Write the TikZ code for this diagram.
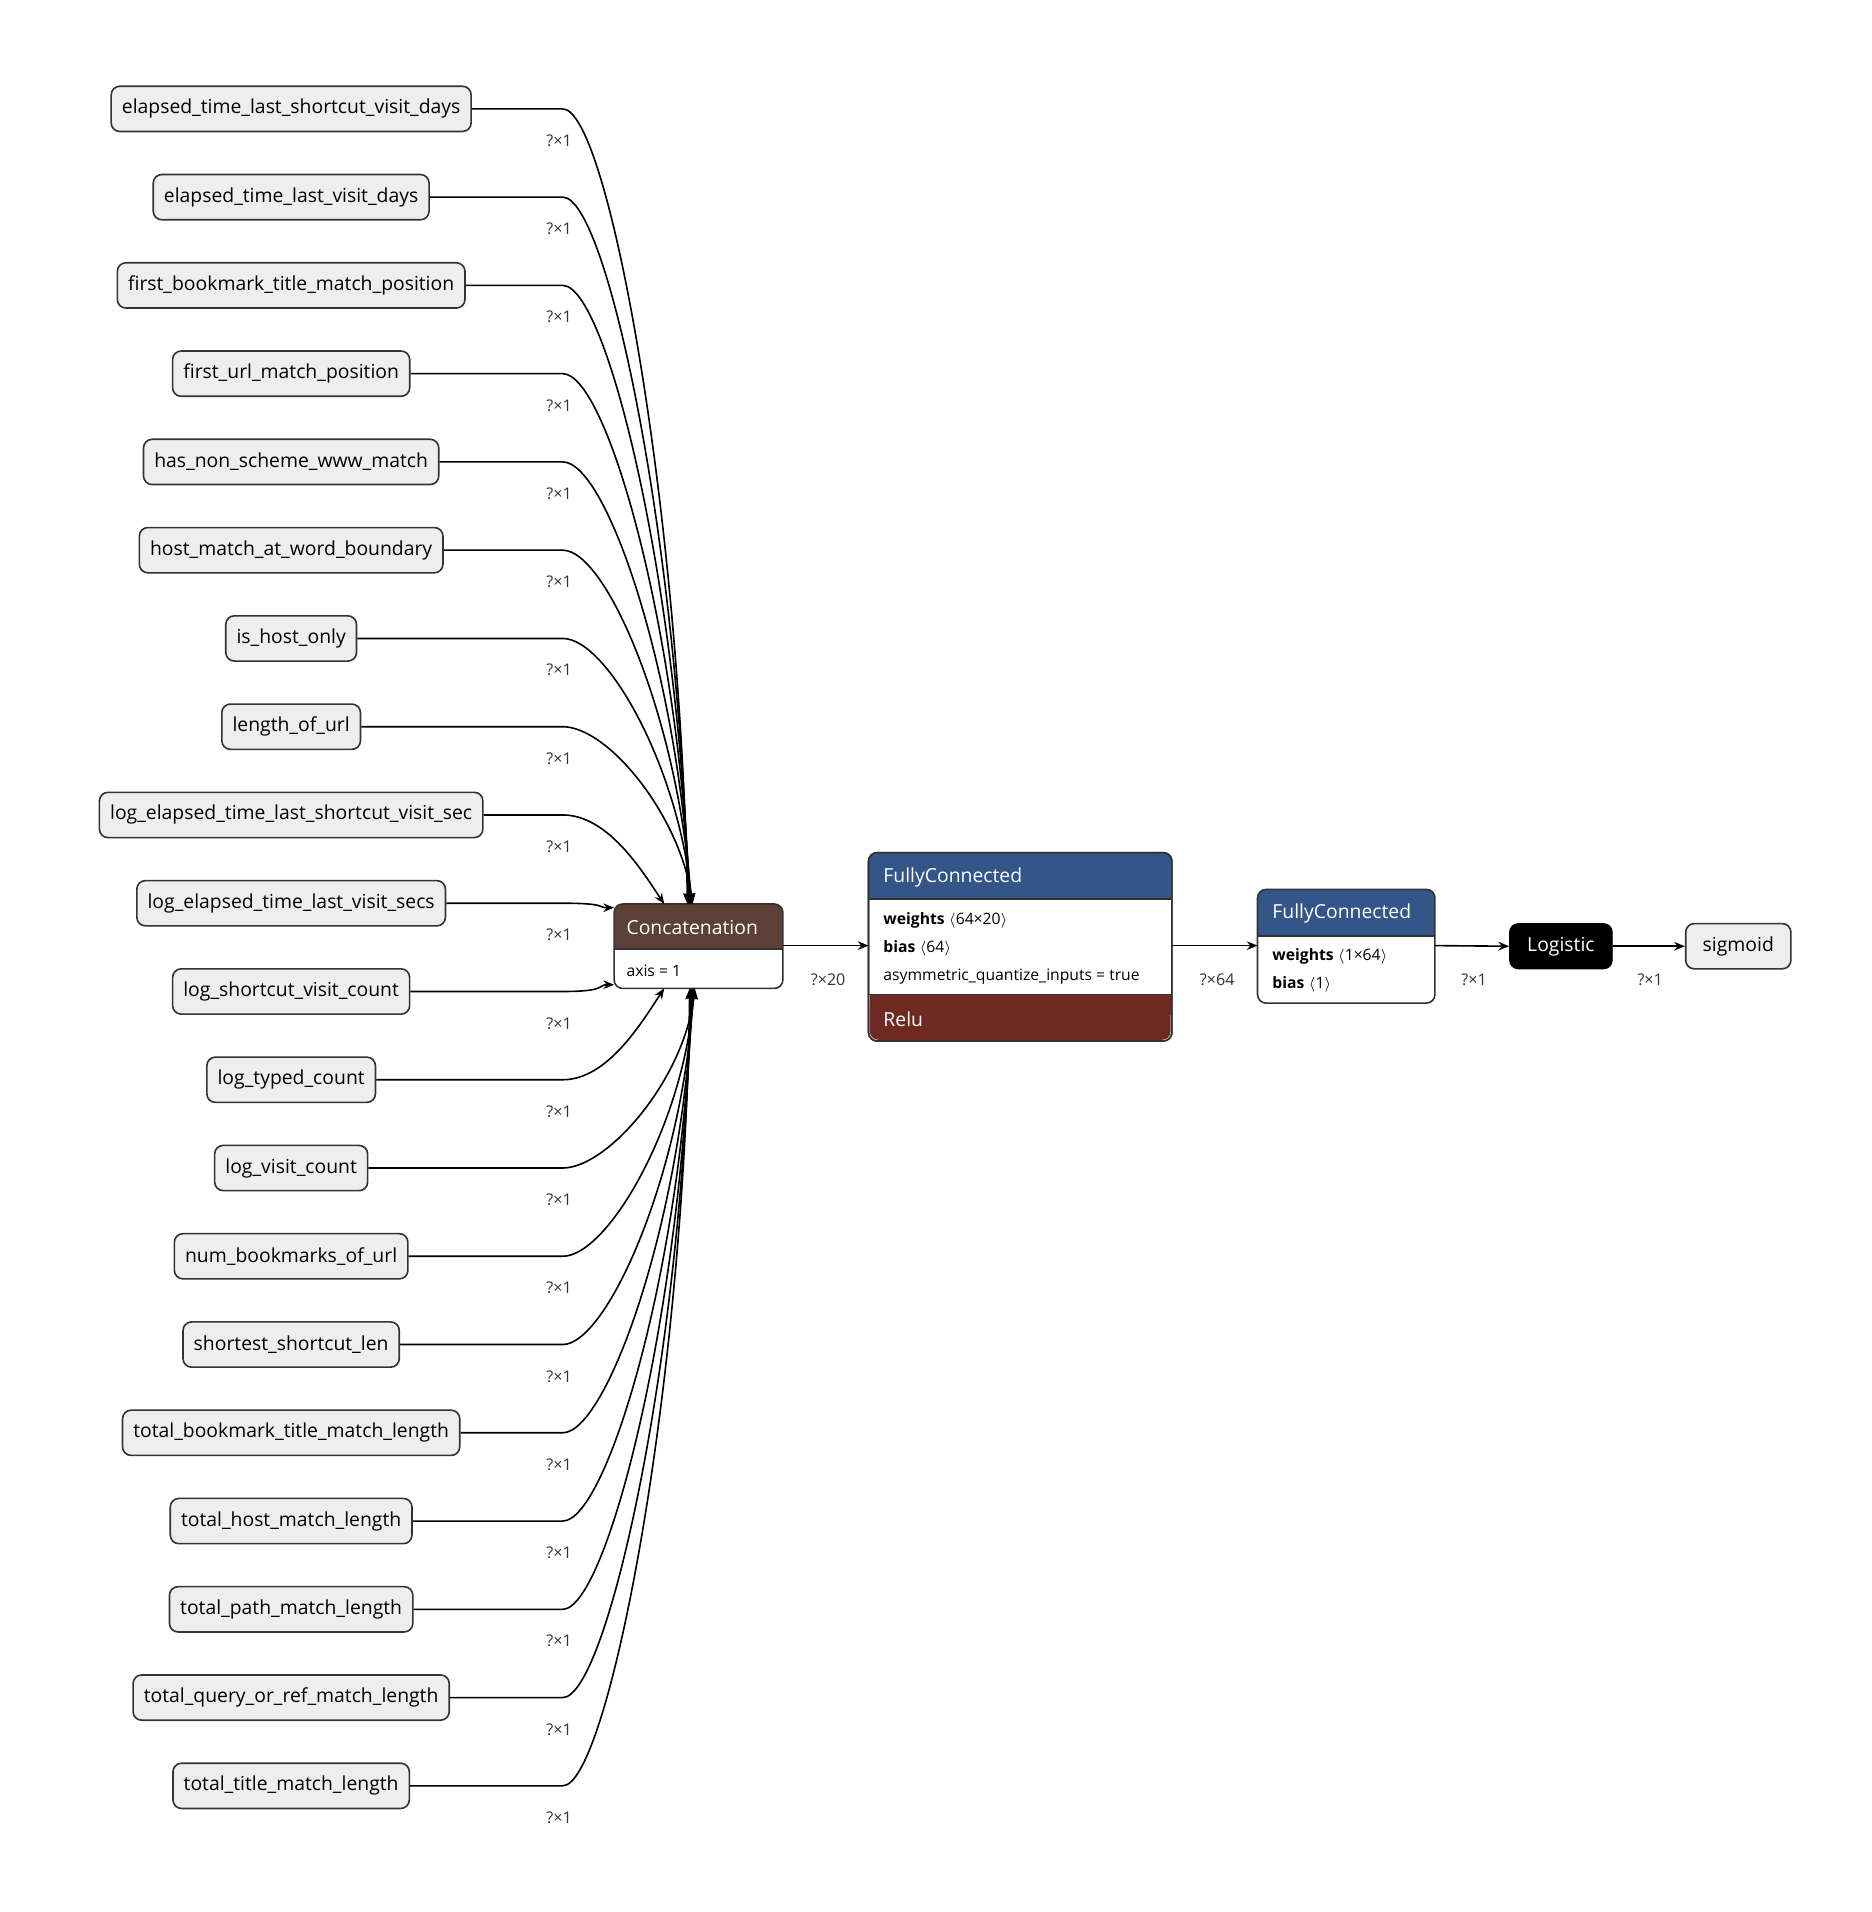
\documentclass[tikz,border=0pt]{standalone}
\usepackage{fontspec}
\setmainfont{Open Sans}
\usetikzlibrary{arrows.meta,calc,positioning}
\definecolor{inputfill}{HTML}{EEEEEE}
\definecolor{concatcol}{HTML}{5D4037}
\definecolor{fccol}{HTML}{335588}
\definecolor{relucol}{HTML}{6E2A22}
\definecolor{edgecol}{HTML}{000000}
\tikzset{
  input/.style={draw=black!80, fill=inputfill, rounded corners=4pt, line width=0.75pt,
    minimum height=0.74cm, inner xsep=5pt, font=\fontsize{9}{10}\selectfont},
  shape label/.style={font=\fontsize{7.5}{9}\selectfont, text=black!80},
  head/.style={anchor=west, text=white, font=\fontsize{9}{10}\selectfont},
  attr/.style={anchor=west, font=\fontsize{7.3}{9}\selectfont},
  link/.style={->, line width=0.75pt, draw=edgecol},
}
\newcommand{\ang}[1]{$\langle$#1$\rangle$}
% box with coloured header: x1,y1,x2,y2,y header bottom, colour
\newcommand{\layerbox}[6]{%
  \fill[white, rounded corners=4pt] (#1,#2) rectangle (#3,#4);
  \begin{scope}
    \clip[rounded corners=4pt] (#1,#2) rectangle (#3,#4);
    \fill[#6] (#1,#2) rectangle (#3,#5);
    \draw[black!80, line width=0.75pt] (#1,#5) -- (#3,#5);
  \end{scope}
  \draw[black!80, line width=0.75pt, rounded corners=4pt] (#1,#2) rectangle (#3,#4);
}
\begin{document}
\begin{tikzpicture}[x=0.02cm, y=-0.02cm, >={Stealth[length=5pt,width=4pt]}]
  \useasboundingbox (0,0) rectangle (1530,1563);

  % inputs
  \foreach \name [count=\i from 0] in {
      elapsed\_time\_last\_shortcut\_visit\_days, elapsed\_time\_last\_visit\_days,
      first\_bookmark\_title\_match\_position, first\_url\_match\_position,
      has\_non\_scheme\_www\_match, host\_match\_at\_word\_boundary,
      is\_host\_only, length\_of\_url, log\_elapsed\_time\_last\_shortcut\_visit\_sec,
      log\_elapsed\_time\_last\_visit\_secs, log\_shortcut\_visit\_count,
      log\_typed\_count, log\_visit\_count, num\_bookmarks\_of\_url,
      shortest\_shortcut\_len, total\_bookmark\_title\_match\_length,
      total\_host\_match\_length, total\_path\_match\_length,
      total\_query\_or\_ref\_match\_length, total\_title\_match\_length} {
    \pgfmathsetmacro\yy{89+72.15*\i}
    \node[input] (in\i) at (238,\yy) {\name};
    \node[shape label] (q\i) at (457,\yy+26) {?×1};
  }

  % concatenation
  \layerbox{502}{739}{640}{808}{776}{concatcol}
  \node[head] (concat) at (506,758) {Concatenation};
  \node[attr] (concatattr) at (506,794) {axis = 1};
  \coordinate (concatout) at (640,773);

  % edges into concatenation
  \foreach \i in {0,...,19} {
    \pgfmathsetmacro\yy{89+72.15*\i}
    \pgfmathsetmacro\tx{\i<8 ? 562+0.6*\i : (\i==8 ? 543 : (\i==9 ? 502 : (\i==10 ? 502 : (\i==11 ? 543 : 568-0.6*(\i-12)))))}
    \pgfmathsetmacro\ty{\i<9 ? 739 : (\i==9 ? 742 : (\i==10 ? 805 : 808))}
    \pgfmathsetmacro\cx{\i<8 ? 556 : (\i==8 ? 525 : (\i<11 ? 488 : (\i==11 ? 525 : 560)))}
    \pgfmathsetmacro\cy{\i<8 ? 739-0.5*(739-\yy) : (\i==8 ? 712 : (\i<11 ? \ty : (\i==11 ? 835 : 808+0.5*(\yy-808))))}
    \coordinate (t\i) at (\tx,\ty);
    \draw[link] (in\i.east) -- (460,\yy) .. controls (497,\yy) and (\cx,\cy) .. (t\i);
  }

  % first fully connected with relu
  \layerbox{710}{697}{958}{851}{735}{fccol}
  \fill[relucol, rounded corners=4pt] (711,813) rectangle (957,850);
  \fill[relucol] (711,813) rectangle (957,830);
  \draw[black!80, line width=0.75pt] (710,813) -- (958,813);
  \draw[black!80, line width=0.75pt, rounded corners=4pt] (710,697) rectangle (958,851);
  \node[head] (fc1) at (716,717) {FullyConnected};
  \node[attr] (fc1w) at (716,752) {\textbf{weights} \ang{64×20}};
  \node[attr] (fc1b) at (716,775) {\textbf{bias} \ang{64}};
  \node[attr] (fc1q) at (716,798) {asymmetric\_quantize\_inputs = true};
  \node[head] (relu) at (716,833) {Relu};
  \coordinate (fc1in) at (710,773);
  \coordinate (fc1out) at (958,773);

  % second fully connected
  \layerbox{1028}{727}{1173}{820}{765}{fccol}
  \node[head] (fc2) at (1034,747) {FullyConnected};
  \node[attr] (fc2w) at (1034,782) {\textbf{weights} \ang{1×64}};
  \node[attr] (fc2b) at (1034,805) {\textbf{bias} \ang{1}};
  \coordinate (fc2in) at (1028,773);
  \coordinate (fc2out) at (1173,773);

  % logistic and output
  \node[draw=black, fill=black, rounded corners=4pt, minimum width=1.68cm, minimum height=0.74cm,
    text=white, font=\fontsize{9}{10}\selectfont] (logistic) at (1276,773.5) {Logistic};
  \node[input, minimum width=1.72cm] (sigmoid) at (1421,773.5) {sigmoid};

  \draw[link] (concatout) -- (fc1in);
  \draw[link] (fc1out) -- (fc2in);
  \draw[link] (fc2out) -- (logistic.west);
  \draw[link] (logistic.east) -- (sigmoid.west);

  \node[shape label] (s20) at (677,801) {?×20};
  \node[shape label] (s64) at (995,801) {?×64};
  \node[shape label] (s1a) at (1205,801) {?×1};
  \node[shape label] (s1b) at (1349,801) {?×1};
\end{tikzpicture}
\end{document}
